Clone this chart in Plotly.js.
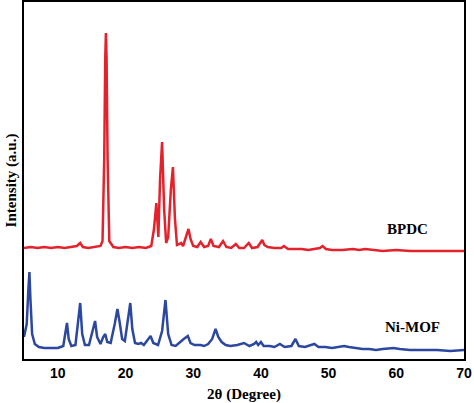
<!DOCTYPE html>
<html>
<head>
<meta charset="utf-8">
<script src="https://cdn.plot.ly/plotly-3.0.1.min.js"></script>
<style>
  body { margin: 0; background: #fff; }
  #chart { width: 474px; height: 403px; }
</style>
</head>
<body>
<div id="chart"></div>
<script>
// 2theta / intensity (intensity in a.u., patterns already stacked)
var bpdcAngle = [5.0, 6, 7, 8, 9, 10, 11, 12, 12.8, 13.3, 13.7, 14.5, 15.5, 16.3, 16.6, 16.85, 17.0, 17.1, 17.2, 17.35, 17.6, 18.2,
  19, 20, 21, 22, 23, 23.8, 24.2, 24.55, 24.85, 25.1, 25.4, 25.7, 26.0, 26.3, 26.7, 27.0, 27.3, 27.6, 28.0, 28.2, 28.5,
  29.0, 29.3, 29.6, 30.0, 30.6, 31.1, 31.6, 32.2, 32.6, 33.0, 33.8, 34.4, 34.9, 35.6, 36.3, 36.8, 37.5, 38.2, 38.7,
  39.5, 40.0, 40.2, 40.5, 41.0, 42, 43.0, 43.4, 44, 45, 46, 47, 48, 48.7, 49.1, 49.6, 50.5, 52, 53.6, 54.5, 55.4,
  56.5, 58, 60, 62, 64, 66, 68, 70];
var bpdcIntensity = [111, 112, 111, 112, 111, 112, 111, 112, 113, 116, 112, 111, 112, 113, 118, 200, 300, 326, 300, 200, 118, 112,
  111, 112, 111, 112, 111, 113, 130, 156, 122, 180, 217, 150, 116, 122, 170, 192, 140, 114, 115, 116, 113,
  125, 130, 120, 113, 112, 117, 112, 113, 120, 113, 112, 118, 112, 111, 115, 111, 111, 116, 111,
  112, 117, 119, 114, 112, 111, 111, 113, 110, 110, 110, 109, 110, 111, 113, 110, 109, 109, 110, 109, 110,
  109, 108, 109, 108, 108, 108, 108, 108];

var mofAngle = [5.0, 5.4, 5.65, 5.8, 5.95, 6.2, 6.6, 7.2, 8, 9, 10, 10.8, 11.1, 11.35, 11.6, 12.0, 12.6, 13.0, 13.3, 13.6,
  14.0, 14.6, 15.2, 15.5, 15.8, 16.3, 16.7, 17.0, 17.3, 17.8, 18.4, 18.8, 19.1, 19.5, 19.9, 20.4, 20.7, 21.0, 21.4,
  21.9, 22.3, 22.7, 23.3, 23.7, 24.1, 24.8, 25.4, 25.9, 26.3, 26.8, 27.4, 28.0, 28.6, 29.2, 29.6, 30.2, 31.1, 31.6,
  32.2, 32.8, 33.3, 33.7, 34.2, 34.8, 35.5, 36.5, 37.5, 38.3, 39.0, 39.3, 39.6, 40.0, 40.4, 41.3, 42.0, 42.8, 43.5,
  44.5, 45.1, 45.6, 46.5, 47.4, 47.9, 48.5, 49.5, 50.5, 51.5, 52.3, 53.0, 54, 55, 56, 57, 58, 59.6, 60.5, 62, 64,
  66, 68, 70];
var mofIntensity = [22, 35, 70, 87, 60, 25, 15, 12, 11, 11, 11, 13, 28, 36, 20, 13, 14, 35, 56, 25,
  14, 14, 30, 38, 22, 15, 22, 25, 17, 16, 35, 50, 38, 20, 18, 45, 56, 30, 16,
  15, 16, 14, 20, 23, 16, 14, 28, 59, 25, 14, 13, 17, 20, 23, 16, 14, 14, 13,
  15, 20, 30, 22, 17, 14, 13, 14, 16, 13, 15, 17, 14, 17, 13, 13, 12, 15, 12,
  13, 20, 13, 12, 14, 15, 12, 12, 11, 12, 13, 12, 11, 10, 10, 9, 10, 11, 10, 9, 9,
  9, 8, 9];

var xTicks = [10, 20, 30, 40, 50, 60, 70];
var seriesNames = ['BPDC', 'Ni-MOF'];

var traces = [
  {x: bpdcAngle, y: bpdcIntensity, type: 'scatter', mode: 'lines', name: seriesNames[0],
   line: {color: '#e3222b', width: 2.5}},
  {x: mofAngle, y: mofIntensity, type: 'scatter', mode: 'lines', name: seriesNames[1],
   line: {color: '#2c479f', width: 2.5}}
];

var serif = 'Liberation Serif, Times New Roman, serif';

var layout = {
  width: 474,
  height: 403,
  margin: {l: 24, r: 10, t: 2, b: 44},
  showlegend: false,
  paper_bgcolor: '#fff',
  plot_bgcolor: '#fff',
  xaxis: {
    range: [5, 70],
    tickvals: xTicks,
    ticks: '',
    showgrid: false,
    zeroline: false,
    showline: true,
    mirror: true,
    linecolor: '#000',
    linewidth: 2,
    tickfont: {family: 'Liberation Sans, Arial, sans-serif', size: 14, color: '#000', weight: 'bold'},
    title: {text: '2θ (Degree)', standoff: 9, font: {family: serif, size: 15, color: '#000', weight: 'bold'}}
  },
  yaxis: {
    range: [0, 357],
    showticklabels: false,
    ticks: '',
    showgrid: false,
    zeroline: false,
    showline: true,
    mirror: true,
    linecolor: '#000',
    linewidth: 2,
    title: {text: 'Intensity (a.u.)', standoff: 2, font: {family: serif, size: 15, color: '#000', weight: 'bold'}}
  },
  annotations: [
    {x: 61.7, y: 130, xref: 'x', yref: 'y', text: seriesNames[0], showarrow: false,
     font: {family: serif, size: 15, color: '#000', weight: 'bold'}},
    {x: 62.4, y: 32, xref: 'x', yref: 'y', text: seriesNames[1], showarrow: false,
     font: {family: serif, size: 15, color: '#000', weight: 'bold'}}
  ]
};

Plotly.newPlot('chart', traces, layout, {displayModeBar: false, staticPlot: true});
</script>
</body>
</html>
